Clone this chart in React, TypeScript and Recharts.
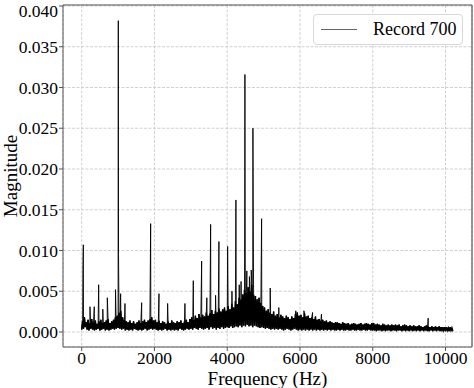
import React from 'react';
import { LineChart, Line, XAxis, YAxis, CartesianGrid, Legend, ReferenceLine } from 'recharts';

// noise floor of the spectrum, one value every 25 Hz starting at 0 Hz, in units of 1e-4
const NOISE_STEP_HZ = 25;
const noiseFloor = [
  3, 14, 4, 18, 6, 12, 3, 15, 2, 11, 4, 16, 3, 12, 2, 14, 3, 10, 4, 13, 2, 15, 3, 11, 4, 12, 2, 14, 3, 16, 2, 11, 3, 13, 4, 15, 3, 18, 4, 20,
  5, 24, 4, 26, 3, 18, 4, 15, 2, 13, 3, 12, 2, 14, 3, 11, 2, 13, 4, 10, 3, 12, 2, 14, 3, 11, 2, 13, 3, 15, 4, 12, 2, 14, 3, 16, 4, 18, 3, 14,
  4, 15, 3, 12, 2, 14, 3, 11, 2, 13, 3, 12, 4, 10, 2, 13, 3, 11, 2, 14, 3, 12, 2, 11, 3, 13, 2, 12, 4, 14, 3, 11, 2, 13, 3, 15, 4, 12, 3, 16,
  4, 18, 3, 15, 5, 20, 4, 17, 3, 22, 5, 18, 4, 21, 3, 19, 4, 24, 5, 20, 3, 23, 6, 27, 4, 22, 5, 26, 3, 24, 5, 29, 4, 25, 6, 28, 4, 30, 5, 26,
  6, 32, 5, 28, 7, 35, 5, 30, 6, 38, 7, 34, 6, 42, 8, 40, 6, 46, 8, 52, 7, 48, 9, 55, 7, 50, 8, 58, 6, 46, 8, 44, 7, 40, 6, 42, 5, 36, 6, 32,
  5, 30, 4, 26, 5, 28, 4, 24, 3, 22, 4, 25, 3, 20, 4, 22, 3, 18, 4, 21, 3, 19, 2, 17, 3, 20, 4, 18, 3, 16, 2, 19, 3, 17, 4, 22, 3, 24, 2, 20,
  3, 21, 2, 18, 3, 23, 2, 19, 3, 20, 2, 17, 3, 18, 2, 16, 3, 19, 2, 15, 3, 16, 2, 14, 3, 15, 2, 13, 3, 14, 2, 12, 3, 13, 2, 12, 3, 11, 2, 12,
  2, 12, 3, 11, 2, 10, 3, 12, 2, 11, 2, 10, 3, 11, 2, 9, 2, 10, 3, 11, 2, 10, 2, 9, 3, 10, 2, 11, 2, 9, 3, 10, 2, 11, 2, 10, 3, 9, 2, 11,
  2, 11, 2, 9, 1, 10, 2, 9, 2, 8, 1, 10, 2, 9, 1, 8, 2, 9, 2, 8, 1, 9, 2, 8, 2, 9, 1, 8, 2, 9, 2, 7, 1, 8, 2, 9, 1, 8, 2, 7,
  1, 8, 2, 7, 1, 8, 2, 7, 1, 7, 2, 8, 1, 7, 2, 6, 1, 7, 2, 8, 1, 7, 1, 6, 2, 7, 1, 6, 2, 7, 1, 6, 2, 7, 1, 6, 1, 6, 2, 6,
  1, 6, 2, 5, 1, 6, 2, 5, 1,
];

// tonal peaks standing out of the floor
const peakFreqs = [
  35, 45, 228, 346, 466, 580, 704, 930, 1006, 1012, 1070, 1190, 1648, 1895,
  2124, 2362, 2838, 3067, 3297, 3440, 3544, 3680, 3772, 4011, 4130, 4239,
  4330, 4380, 4486, 4540, 4610, 4660, 4706, 4945, 5182, 5418, 5885, 6107,
  6345, 6590, 9524,
];
const peakMags = [
  0.0083, 0.0107, 0.0031, 0.0031, 0.0058, 0.0028, 0.0042, 0.0052, 0.0382, 0.0095, 0.0047, 0.0035, 0.0036, 0.0133,
  0.0047, 0.0035, 0.0035, 0.0063, 0.0087, 0.0042, 0.0132, 0.0045, 0.0111, 0.0105, 0.005, 0.0162,
  0.0058, 0.0062, 0.0316, 0.0075, 0.0068, 0.0076, 0.025, 0.0139, 0.0054, 0.003, 0.0026, 0.0026,
  0.0024, 0.0022, 0.0017,
];

const xTicks = [0, 2000, 4000, 6000, 8000, 10000];
const yTicks = [0, 0.005, 0.01, 0.015, 0.02, 0.025, 0.03, 0.035, 0.04];

const X_MIN = -514;
const X_MAX = 10728;
const Y_MIN = -0.00184;
const Y_MAX = 0.04012;

const FONT = '"Liberation Serif", "DejaVu Serif", serif';
const SPINE = '#555';

const floorPoints = noiseFloor.map((v, i) => ({ freq: i * NOISE_STEP_HZ, mag: v * 1e-4 }));
const spectrum = [
  ...floorPoints,
  ...peakFreqs.map((f, i) => ({ freq: f, mag: peakMags[i] })),
].sort((a, b) => a.freq - b.freq);

const LegendBox = () => (
  <div
    style={{
      boxSizing: 'border-box',
      height: 31,
      border: '1px solid #d8d8d8',
      borderRadius: 4,
      background: '#fff',
      display: 'flex',
      alignItems: 'center',
      fontFamily: FONT,
      fontSize: 18,
      color: '#000',
    }}
  >
    <span style={{ width: 36, borderTop: '1px solid #666', margin: '0 16px 0 7px' }} />
    <span>Record 700</span>
  </div>
);

const App = () => {
  return (
    <div style={{ position: 'absolute', left: 0, top: 0 }}>
      <LineChart width={474} height={388} margin={{ top: 5, right: 2, bottom: 0, left: 0 }}>
        <CartesianGrid stroke="#d0d0d0" strokeDasharray="3 1.5" />
        <XAxis
          dataKey="freq"
          type="number"
          domain={[X_MIN, X_MAX]}
          ticks={xTicks}
          height={41}
          tickSize={4}
          tickMargin={1}
          stroke={SPINE}
          tick={{ fill: '#000', fontFamily: FONT, fontSize: 17.5 }}
          label={{
            value: 'Frequency (Hz)',
            position: 'insideBottom',
            offset: 3,
            fill: '#000',
            fontFamily: FONT,
            fontSize: 19,
          }}
        />
        <YAxis
          type="number"
          domain={[Y_MIN, Y_MAX]}
          ticks={yTicks}
          width={63}
          tickSize={4}
          tickMargin={1}
          stroke={SPINE}
          tickFormatter={(v: number) => v.toFixed(3)}
          tick={{ fill: '#000', fontFamily: FONT, fontSize: 17.5 }}
          label={{
            value: 'Magnitude',
            angle: -90,
            position: 'insideLeft',
            offset: 10,
            fill: '#000',
            fontFamily: FONT,
            fontSize: 19,
            style: { textAnchor: 'middle' },
          }}
        />
        <ReferenceLine y={Y_MAX} stroke={SPINE} strokeWidth={1.2} />
        <ReferenceLine x={X_MAX} stroke={SPINE} strokeWidth={1.2} />
        <Legend
          layout="horizontal"
          align="center"
          verticalAlign="middle"
          wrapperStyle={{ left: 313, top: 14, width: 150 }}
          content={() => <LegendBox />}
        />
        {/* dense floor drawn heavier so it reads as a solid band */}
        <Line
          data={floorPoints}
          type="linear"
          dataKey="mag"
          stroke="#000"
          strokeWidth={1.5}
          dot={false}
          activeDot={false}
          legendType="none"
          isAnimationActive={false}
        />
        <Line
          data={spectrum}
          type="linear"
          dataKey="mag"
          name="Record 700"
          stroke="#000"
          strokeWidth={0.9}
          dot={false}
          activeDot={false}
          isAnimationActive={false}
        />
      </LineChart>
    </div>
  );
};

export default App;
